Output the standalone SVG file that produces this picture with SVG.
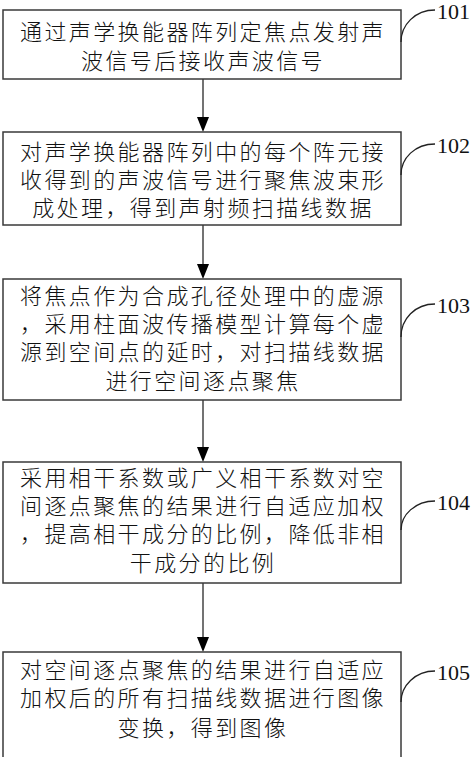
<svg xmlns="http://www.w3.org/2000/svg" width="474" height="757" viewBox="0 0 474 757">
<defs>
<style>
.box{fill:#fff;stroke:#3a3a3a;stroke-width:1.5}
.t{font-family:"Noto Sans CJK SC","Noto Sans CJK JP",sans-serif;font-size:22px;font-weight:300;fill:#111;text-anchor:middle;letter-spacing:2.4px}
.lbl{font-family:"Liberation Serif",serif;font-size:22px;fill:#111}
.lead{fill:none;stroke:#222;stroke-width:1.3}
.conn{stroke:#444;stroke-width:1.5;fill:none}
.head{fill:#000}
</style>
</defs>
<rect width="474" height="757" fill="#fff"/>
<g id="connectors">
<line class="conn" x1="203" y1="79" x2="203" y2="117"/><path class="head" d="M197,117 L209,117 L203,132 Z"/>
<line class="conn" x1="203" y1="225" x2="203" y2="264"/><path class="head" d="M197,264 L209,264 L203,279 Z"/>
<line class="conn" x1="203" y1="400" x2="203" y2="447"/><path class="head" d="M197,447 L209,447 L203,462 Z"/>
<line class="conn" x1="203" y1="583" x2="203" y2="637"/><path class="head" d="M197,637 L209,637 L203,652 Z"/>
</g>
<g id="n101">
<rect class="box" x="3" y="10" width="398" height="69"/>
<text class="t" x="203" y="40">通过声学换能器阵列定焦点发射声</text>
<text class="t" x="203" y="69">波信号后接收声波信号</text>
<path class="lead" d="M401,42 C401,25 415,10 435,10"/>
<text class="lbl" x="437" y="19">101</text>
</g>
<g id="n102">
<rect class="box" x="3" y="132" width="398" height="93"/>
<text class="t" x="203" y="160">对声学换能器阵列中的每个阵元接</text>
<text class="t" x="203" y="188">收得到的声波信号进行聚焦波束形</text>
<text class="t" x="203" y="216">成处理，得到声射频扫描线数据</text>
<path class="lead" d="M401,175 C401,158 415,144 435,144"/>
<text class="lbl" x="437" y="153">102</text>
</g>
<g id="n103">
<rect class="box" x="3" y="279" width="398" height="121"/>
<text class="t" x="203" y="304">将焦点作为合成孔径处理中的虚源</text>
<text class="t" x="203" y="332">，采用柱面波传播模型计算每个虚</text>
<text class="t" x="203" y="360">源到空间点的延时，对扫描线数据</text>
<text class="t" x="203" y="389">进行空间逐点聚焦</text>
<path class="lead" d="M401,337 C401,319 415,304 435,304"/>
<text class="lbl" x="437" y="313">103</text>
</g>
<g id="n104">
<rect class="box" x="3" y="462" width="398" height="121"/>
<text class="t" x="203" y="486">采用相干系数或广义相干系数对空</text>
<text class="t" x="203" y="514">间逐点聚焦的结果进行自适应加权</text>
<text class="t" x="203" y="542">，提高相干成分的比例，降低非相</text>
<text class="t" x="203" y="571">干成分的比例</text>
<path class="lead" d="M401,530 C401,515 415,501 435,501"/>
<text class="lbl" x="437" y="510">104</text>
</g>
<g id="n105">
<rect class="box" x="3" y="652" width="398" height="110"/>
<text class="t" x="203" y="678">对空间逐点聚焦的结果进行自适应</text>
<text class="t" x="203" y="706">加权后的所有扫描线数据进行图像</text>
<text class="t" x="203" y="736">变换，得到图像</text>
<path class="lead" d="M401,702 C401,686 415,671 435,671"/>
<text class="lbl" x="437" y="680">105</text>
</g>
</svg>
